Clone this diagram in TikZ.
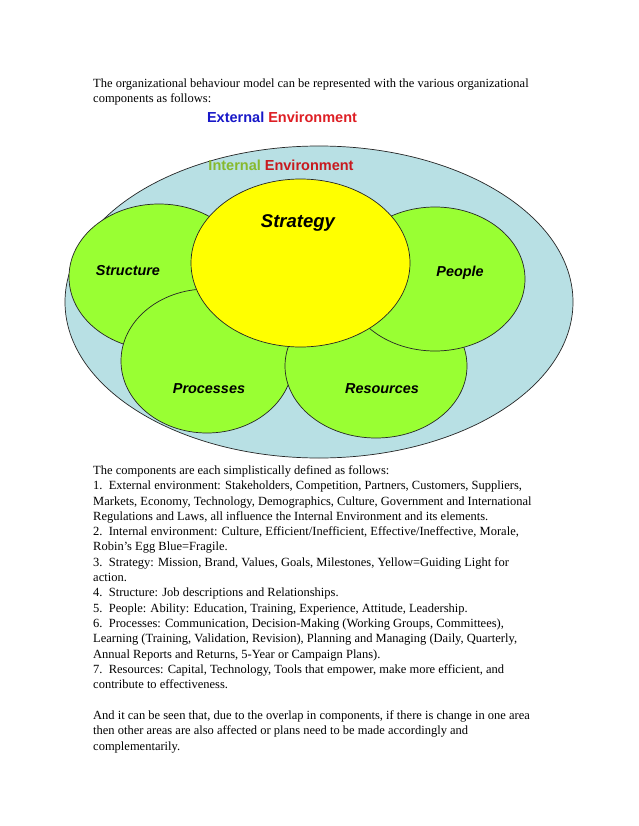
\documentclass[tikz,border=0pt]{standalone}
\usepackage{fontspec}
\setmainfont{Liberation Serif}
\setsansfont{Liberation Sans}

\definecolor{eggblue}{RGB}{184,224,228}
\definecolor{partgreen}{RGB}{153,255,51}
\definecolor{stratyellow}{RGB}{255,255,0}
\definecolor{extblue}{RGB}{24,24,200}
\definecolor{envred}{RGB}{222,30,36}
\definecolor{intgreen}{RGB}{135,185,45}
\definecolor{intred}{RGB}{200,25,30}

\begin{document}
\begin{tikzpicture}[x=1pt,y=-1pt,
  zone/.style={draw=black!85,line width=0.7pt},
  part/.style={font=\sffamily\bfseries\itshape\fontsize{14.4}{16}\selectfont},
  title/.style={font=\sffamily\bfseries\fontsize{14.5}{16}\selectfont},
  body/.style={font=\fontsize{12.5}{15.3}\selectfont,align=left,inner sep=0pt,anchor=north west}]

\useasboundingbox[fill=white] (0,0) rectangle (638,826);

% Intro
\node[body] (intro) at (93,78.4) {The organizational behaviour model can be represented with the various organizational\\
components as follows:};

% External environment
\node[title] (external) at (282,117) {\textcolor{extblue}{External} \textcolor{envred}{Environment}};
\filldraw[zone,fill=eggblue] (319,302) ellipse [x radius=254,y radius=156];

% Internal environment
\node[title] (internal) at (281,165) {\textcolor{intgreen}{Internal} \textcolor{intred}{Environment}};

% Components
\filldraw[zone,fill=partgreen] (159,277) ellipse [x radius=90,y radius=73]; % Structure
\filldraw[zone,fill=partgreen] (207,361) ellipse [x radius=86,y radius=72]; % Processes
\filldraw[zone,fill=partgreen] (376,366) ellipse [x radius=91,y radius=72]; % Resources
\filldraw[zone,fill=partgreen] (435,279) ellipse [x radius=90,y radius=72]; % People

% Strategy
\filldraw[zone,fill=stratyellow] (300.5,263) ellipse [x radius=109.5,y radius=84];

\node[part,font=\sffamily\bfseries\itshape\fontsize{18.5}{20}\selectfont] (strategy) at (298,223) {Strategy};
\node[part] (structure) at (128,271) {Structure};
\node[part] (people) at (460,273) {People};
\node[part] (processes) at (209,389) {Processes};
\node[part] (resources) at (382,389) {Resources};

% Definitions
\node[body] (defs) at (93,465.4) {The components are each simplistically defined as follows:\\
1.\ \ External environment: Stakeholders, Competition, Partners, Customers, Suppliers,\\
Markets, Economy, Technology, Demographics, Culture, Government and International\\
Regulations and Laws, all influence the Internal Environment and its elements.\\
2.\ \ Internal environment: Culture, Efficient/Inefficient, Effective/Ineffective, Morale,\\
Robin’s Egg Blue=Fragile.\\
3.\ \ Strategy: Mission, Brand, Values, Goals, Milestones, Yellow=Guiding Light for\\
action.\\
4.\ \ Structure: Job descriptions and Relationships.\\
5.\ \ People: Ability: Education, Training, Experience, Attitude, Leadership.\\
6.\ \ Processes: Communication, Decision-Making (Working Groups, Committees),\\
Learning (Training, Validation, Revision), Planning and Managing (Daily, Quarterly,\\
Annual Reports and Returns, 5-Year or Campaign Plans).\\
7.\ \ Resources: Capital, Technology, Tools that empower, make more efficient, and\\
contribute to effectiveness.};

% Closing
\node[body] (closing) at (93,710.4) {And it can be seen that, due to the overlap in components, if there is change in one area\\
then other areas are also affected or plans need to be made accordingly and\\
complementarily.};

\end{tikzpicture}
\end{document}
